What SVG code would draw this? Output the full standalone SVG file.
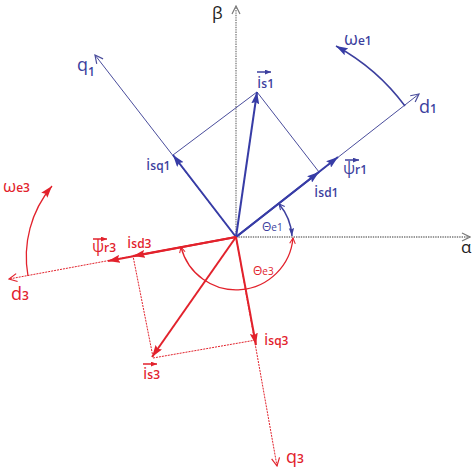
<svg xmlns="http://www.w3.org/2000/svg" width="474" height="471" viewBox="0 0 474 471">
<style>
text{font-family:"Open Sans","DejaVu Sans",sans-serif}
.b{fill:#3c3f9e}.r{fill:#e2222c}.k{fill:#222}
.ax{fill:none;stroke:#7a7a7a;stroke-width:1.3;stroke-dasharray:1.4 1}
.bt{fill:none;stroke:#4a4d9c;stroke-width:1}
.bv{fill:none;stroke:#373ca6;stroke-width:2}
.rt{fill:none;stroke:#e2222c;stroke-width:1;stroke-dasharray:2 1}
.rv{fill:none;stroke:#e2222c;stroke-width:2}
.ra{fill:none;stroke:#e2222c;stroke-width:1.3}
.ba{fill:none;stroke:#3c3f9e;stroke-width:1.5}
.ov{stroke-width:1.5;fill:none}
.s{font-size:12px;font-weight:600}
</style>
<defs>
<marker id="og" viewBox="0 0 10 10" refX="9" refY="5" markerWidth="10" markerHeight="10" orient="auto" markerUnits="userSpaceOnUse"><path d="M1,1 L9,5 L1,9" fill="none" stroke="#7a7a7a" stroke-width="1.2"/></marker>
<marker id="ob" viewBox="0 0 10 10" refX="9" refY="5" markerWidth="10" markerHeight="10" orient="auto" markerUnits="userSpaceOnUse"><path d="M1,1 L9,5 L1,9" fill="none" stroke="#4a4d9c" stroke-width="1.2"/></marker>
<marker id="or" viewBox="0 0 10 10" refX="9" refY="5" markerWidth="10" markerHeight="10" orient="auto" markerUnits="userSpaceOnUse"><path d="M1,1 L9,5 L1,9" fill="none" stroke="#e2222c" stroke-width="1.2"/></marker>
<marker id="osb" viewBox="0 0 10 10" refX="9" refY="5" markerWidth="7" markerHeight="7" orient="auto-start-reverse" markerUnits="userSpaceOnUse"><path d="M1,1 L9,5 L1,9" fill="none" stroke="#3c3f9e" stroke-width="1.5"/></marker>
<marker id="osr" viewBox="0 0 10 10" refX="9" refY="5" markerWidth="7" markerHeight="7" orient="auto-start-reverse" markerUnits="userSpaceOnUse"><path d="M1,1 L9,5 L1,9" fill="none" stroke="#e2222c" stroke-width="1.5"/></marker>
<marker id="fb" viewBox="0 0 12 8" refX="12" refY="4" markerWidth="12" markerHeight="8" orient="auto" markerUnits="userSpaceOnUse"><path d="M0,0 L12,4 L0,8 L2,4 Z" fill="#373ca6"/></marker>
<marker id="fr" viewBox="0 0 12 8" refX="12" refY="4" markerWidth="12" markerHeight="8" orient="auto" markerUnits="userSpaceOnUse"><path d="M0,0 L12,4 L0,8 L2,4 Z" fill="#e2222c"/></marker>
<marker id="fsb" viewBox="0 0 12 8" refX="12" refY="4" markerWidth="8" markerHeight="6" orient="auto" markerUnits="userSpaceOnUse"><path d="M0,0 L12,4 L0,8 L2,4 Z" fill="#3c3f9e"/></marker>
<marker id="tb" viewBox="0 0 10 8" refX="10" refY="4" markerWidth="6" markerHeight="5" orient="auto" markerUnits="userSpaceOnUse"><path d="M0,0 L10,4 L0,8 Z" fill="#3c3f9e"/></marker>
<marker id="tr" viewBox="0 0 10 8" refX="10" refY="4" markerWidth="6" markerHeight="5" orient="auto" markerUnits="userSpaceOnUse"><path d="M0,0 L10,4 L0,8 Z" fill="#e2222c"/></marker>
</defs>

<g id="connectors">
<path class="ax" d="M236,237 L236,6" marker-end="url(#og)"/>
<path class="ax" d="M236,237 L470,237" marker-end="url(#og)"/>
<path class="bt" d="M236,237 L95,55" marker-end="url(#ob)"/>
<path class="bt" d="M236,237 L419,94" marker-end="url(#ob)"/>
<path class="bt" d="M257,92 L173,155"/>
<path class="bt" d="M257,92 L319,172"/>
<path class="bv" d="M236,237 L173,155" marker-end="url(#fb)"/>
<path class="bv" d="M236,237 L257,92" marker-end="url(#fb)"/>
<path class="bv" d="M236,237 L338,157" marker-end="url(#fb)"/>
<path class="bv" d="M236,237 L319,172" marker-end="url(#fb)"/>
<path class="ba" d="M405,106 A214,214 0 0 0 336,46" marker-end="url(#fb)"/>
<path class="ba" d="M279,204 A55,55 0 0 1 292,236" marker-start="url(#osb)" marker-end="url(#fsb)"/>
<path class="rt" d="M236,237 L9,279" marker-end="url(#or)"/>
<path class="rt" d="M236,237 L277,466" marker-end="url(#or)"/>
<path class="rt" d="M153,357 L133,256"/>
<path class="rt" d="M153,358 L256,340"/>
<path class="rv" d="M236,237 L108,261" marker-end="url(#fr)"/>
<path class="rv" d="M236,237 L133,256" marker-end="url(#fr)"/>
<path class="rv" d="M236,237 L152,357" marker-end="url(#fr)"/>
<path class="rv" d="M236,237 L256,345" marker-end="url(#fr)"/>
<path class="ra" d="M293,238 A57,57 0 0 1 181,247" marker-start="url(#osr)" marker-end="url(#osr)"/>
<path class="ra" d="M28,276 A110,110 0 0 1 52,186" marker-end="url(#fr)"/>
</g>

<g id="beta"><text class="k" x="212" y="19" font-size="17">β</text></g>
<g id="alpha"><text class="k" x="461" y="253" font-size="17">α</text></g>
<g id="q1"><text class="b" x="77" y="71" font-size="18">q<tspan class="s" dy="5">1</tspan></text></g>
<g id="d1"><text class="b" x="419" y="113" font-size="18">d<tspan class="s">1</tspan></text></g>
<g id="we1"><text class="b" x="344" y="45" font-size="18">ω<tspan class="s">e1</tspan></text></g>
<g id="is1"><text class="b" x="257" y="88" font-size="17">i<tspan class="s">s1</tspan></text><path class="ov" stroke="#3c3f9e" d="M257,72 L271,72" marker-end="url(#tb)"/></g>
<g id="isq1"><text class="b" x="146" y="170" font-size="17">i<tspan class="s">sq1</tspan></text></g>
<g id="isd1"><text class="b" x="314" y="197" font-size="17">i<tspan class="s">sd1</tspan></text></g>
<g id="psir1"><text class="b" x="343" y="174" font-size="16">ψ<tspan class="s">r1</tspan></text><path class="ov" stroke="#3c3f9e" d="M345,160 L359,160" marker-end="url(#tb)"/></g>
<g id="the1"><text class="b" x="262" y="231" font-size="12">Θ<tspan font-size="10">e1</tspan></text></g>
<g id="the3"><text class="r" x="253" y="275" font-size="12">Θ<tspan font-size="10">e3</tspan></text></g>
<g id="we3"><text class="r" x="3" y="192" font-size="17">ω<tspan class="s">e3</tspan></text></g>
<g id="d3"><text class="r" x="11" y="300" font-size="18">d<tspan class="s">3</tspan></text></g>
<g id="psir3"><text class="r" x="92" y="252" font-size="16">ψ<tspan class="s">r3</tspan></text><path class="ov" stroke="#e2222c" d="M93,239 L107,239" marker-end="url(#tr)"/></g>
<g id="isd3"><text class="r" x="127" y="248" font-size="17">i<tspan class="s">sd3</tspan></text></g>
<g id="is3"><text class="r" x="143" y="379" font-size="17">i<tspan class="s">s3</tspan></text><path class="ov" stroke="#e2222c" d="M143,364 L157,364" marker-end="url(#tr)"/></g>
<g id="isq3"><text class="r" x="264" y="345" font-size="17">i<tspan class="s">sq3</tspan></text></g>
<g id="q3"><text class="r" x="286" y="463" font-size="18">q<tspan class="s">3</tspan></text></g>
</svg>
